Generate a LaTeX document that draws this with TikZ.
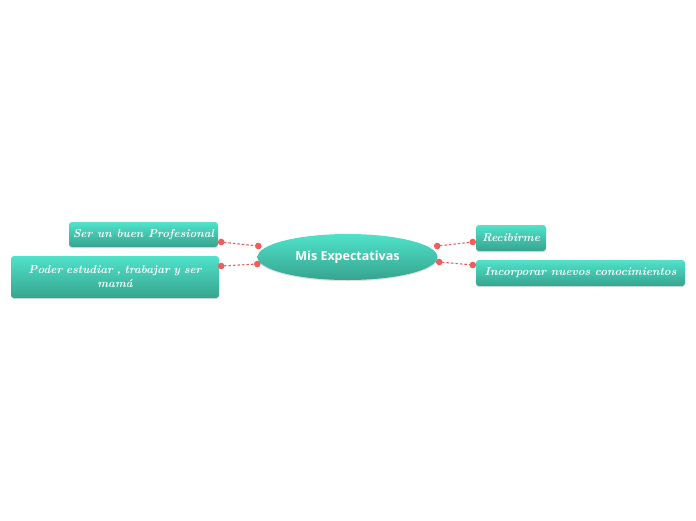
\documentclass[tikz,border=0pt]{standalone}
\usepackage{fontspec}
\setsansfont{Open Sans}
\usepackage{tikz}
\usetikzlibrary{shapes.geometric,shadows,arrows.meta}

\definecolor{tealtop}{HTML}{50E2CA}
\definecolor{tealbot}{HTML}{36A48F}
\definecolor{linkred}{HTML}{F25C5C}

\tikzset{
  topic/.style={rounded corners=3pt, top color=tealtop, bottom color=tealbot,
    text=white, font=\bfseries\itshape\fontsize{11.5}{14}\selectfont, inner sep=1pt,
    drop shadow={shadow xshift=0pt, shadow yshift=-1.2pt, opacity=0.25}},
  central/.style={ellipse, top color=tealtop, bottom color=tealbot, text=white,
    font=\sffamily\bfseries\fontsize{12.5}{14}\selectfont, inner sep=0pt,
    minimum width=180pt, minimum height=46pt,
    drop shadow={shadow xshift=0pt, shadow yshift=-1.2pt, opacity=0.25}},
  link/.style={linkred, line width=1.1pt, dash pattern=on 2.5pt off 2pt,
    {Circle[length=6.5pt,sep=-3.25pt]}-{Circle[length=6.5pt,sep=-3.25pt]}}
}

\begin{document}
\begin{tikzpicture}[x=1pt,y=-1pt]
        \useasboundingbox (0,0) rectangle (696,520);
        \node[central] (main) at (347.5,257) {Mis Expectativas};
        \node[topic, minimum width=149pt, minimum height=25pt] (ser) at (143.5,234.5) {Ser un buen Profesional};
        \node[topic, minimum width=208pt, minimum height=42pt, text width=204pt, align=center] (poder) at (115,277) {Poder estudiar , trabajar y ser\\mamá};
        \node[topic, minimum width=70pt, minimum height=26pt] (recib) at (511,238) {Recibirme};
        \node[topic, minimum width=209pt, minimum height=26pt] (incorp) at (580.5,273) {Incorporar nuevos conocimientos};
        % links
        \draw[link] ([shift={(3,7.5)}]ser.east) -- ([shift={(1,-11)}]main.west);
        \draw[link] ([shift={(2,-11)}]poder.east) -- ([shift={(0,7)}]main.west);
        \draw[link] ([shift={(-0.5,-11)}]main.east) -- ([shift={(-3,4)}]recib.west);
        \draw[link] ([shift={(1.5,5)}]main.east) -- ([shift={(-3,-8)}]incorp.west);
\end{tikzpicture}
\end{document}
